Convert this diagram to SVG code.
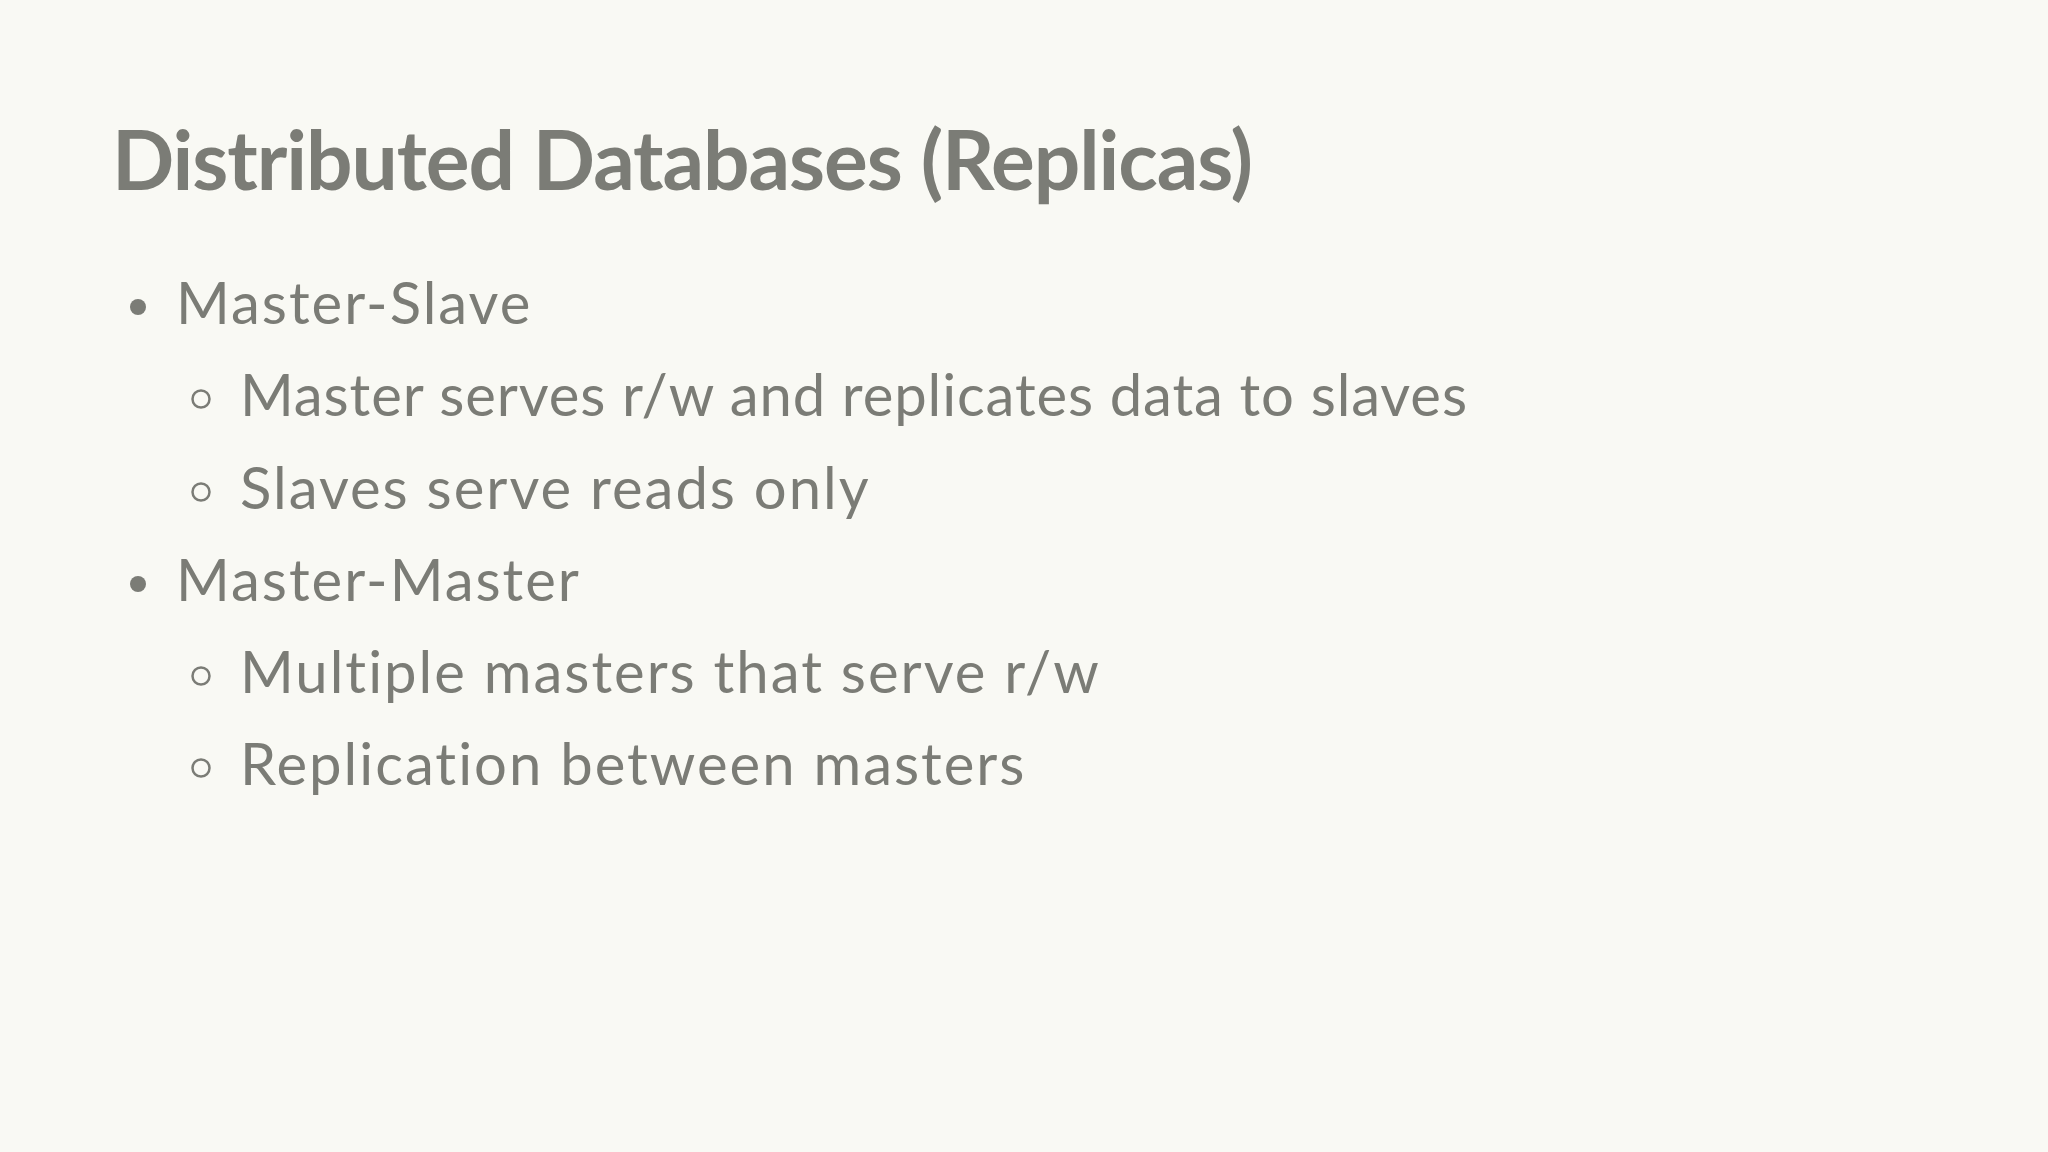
<svg xmlns="http://www.w3.org/2000/svg" width="2048" height="1152" viewBox="0 0 2048 1152">
<style>
.t{font-family:Lato,"Liberation Sans",sans-serif;fill:#7b7c76}
.b{font-size:58px;letter-spacing:2px}
.o{fill:none;stroke:#7b7c76;stroke-width:2.5}
</style>
<rect width="2048" height="1152" fill="#f9f9f4"/>
<text class="t" x="112" y="190" font-size="82" font-weight="bold" textLength="1141">Distributed Databases (Replicas)</text>
<g id="list">
<circle cx="138" cy="307" r="8" fill="#7b7c76"/>
<text class="t b" x="176" y="324">Master-Slave</text>
<circle class="o" cx="201" cy="399" r="8.5"/>
<text class="t b" x="240" y="416" textLength="1229">Master serves r/w and replicates data to slaves</text>
<circle class="o" cx="201" cy="492" r="8.5"/>
<text class="t b" x="240" y="509">Slaves serve reads only</text>
<circle cx="138" cy="584" r="8" fill="#7b7c76"/>
<text class="t b" x="176" y="601">Master-Master</text>
<circle class="o" cx="201" cy="676" r="8.5"/>
<text class="t b" x="240" y="693">Multiple masters that serve r/w</text>
<circle class="o" cx="201" cy="768" r="8.5"/>
<text class="t b" x="240" y="785">Replication between masters</text>
</g>
</svg>
